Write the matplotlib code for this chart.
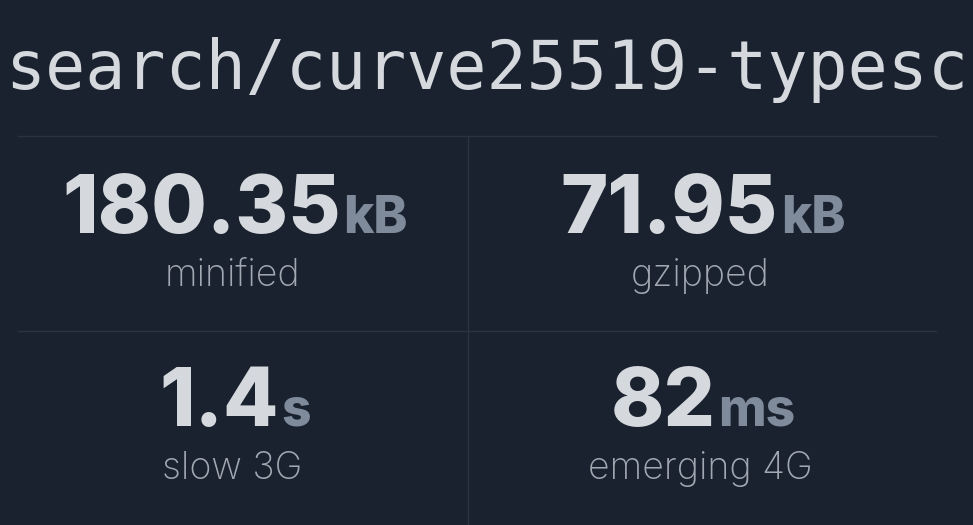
#!/usr/bin/env python3
"""
Package size card: bundle size and download time stats
"""

import matplotlib.pyplot as plt
from matplotlib.lines import Line2D

# Data
package_name = "search/curve25519-typesc"
stat_values = ["180.35", "71.95", "1.4", "82"]
stat_units = ["kB", "kB", "s", "ms"]
stat_labels = ["minified", "gzipped", "slow 3G", "emerging 4G"]

W, H = 973, 525
BG = "#19222e"
TEXT = "#d5d8dd"
UNIT = "#7f8b9b"
LABEL = "#a1a8b2"
GRID = "#2a3340"

fig = plt.figure(figsize=(W / 100, H / 100), dpi=100, facecolor=BG)
ax = fig.add_axes([0, 0, 1, 1])
ax.set_xlim(0, W)
ax.set_ylim(H, 0)
ax.axis("off")
ax.set_facecolor(BG)

# Title (monospace, fills the full width)
ax.text(W / 2, 89, package_name, fontsize=48, family="DejaVu Sans Mono",
        color=TEXT, ha="center", va="baseline")

# Grid lines
ax.add_line(Line2D([18, 936], [136, 136], color=GRID, lw=1))
ax.add_line(Line2D([18, 936], [331, 331], color=GRID, lw=1))
ax.add_line(Line2D([468, 468], [136, 525], color=GRID, lw=1))

renderer = fig.canvas.get_renderer()
centers_x = [235, 703, 235, 703]
num_baseline = [233, 233, 426, 426]
label_baseline = [286, 286, 479, 479]
gap = 3

for i in range(len(stat_values)):
    t_num = ax.text(0, num_baseline[i], stat_values[i], fontsize=58,
                    family="Inter", weight="heavy", color=TEXT,
                    ha="left", va="baseline")
    t_unit = ax.text(0, num_baseline[i], stat_units[i], fontsize=37,
                     family="Inter", weight="heavy", color=UNIT,
                     ha="left", va="baseline")
    w_num = t_num.get_window_extent(renderer).width
    w_unit = t_unit.get_window_extent(renderer).width
    x0 = centers_x[i] - (w_num + gap + w_unit) / 2
    t_num.set_x(x0)
    t_unit.set_x(x0 + w_num + gap)

    ax.text(centers_x[i] - 3, label_baseline[i], stat_labels[i], fontsize=27,
            family="Inter", weight="light", color=LABEL,
            ha="center", va="baseline")

fig.savefig("out.png", dpi=100, facecolor=BG)
